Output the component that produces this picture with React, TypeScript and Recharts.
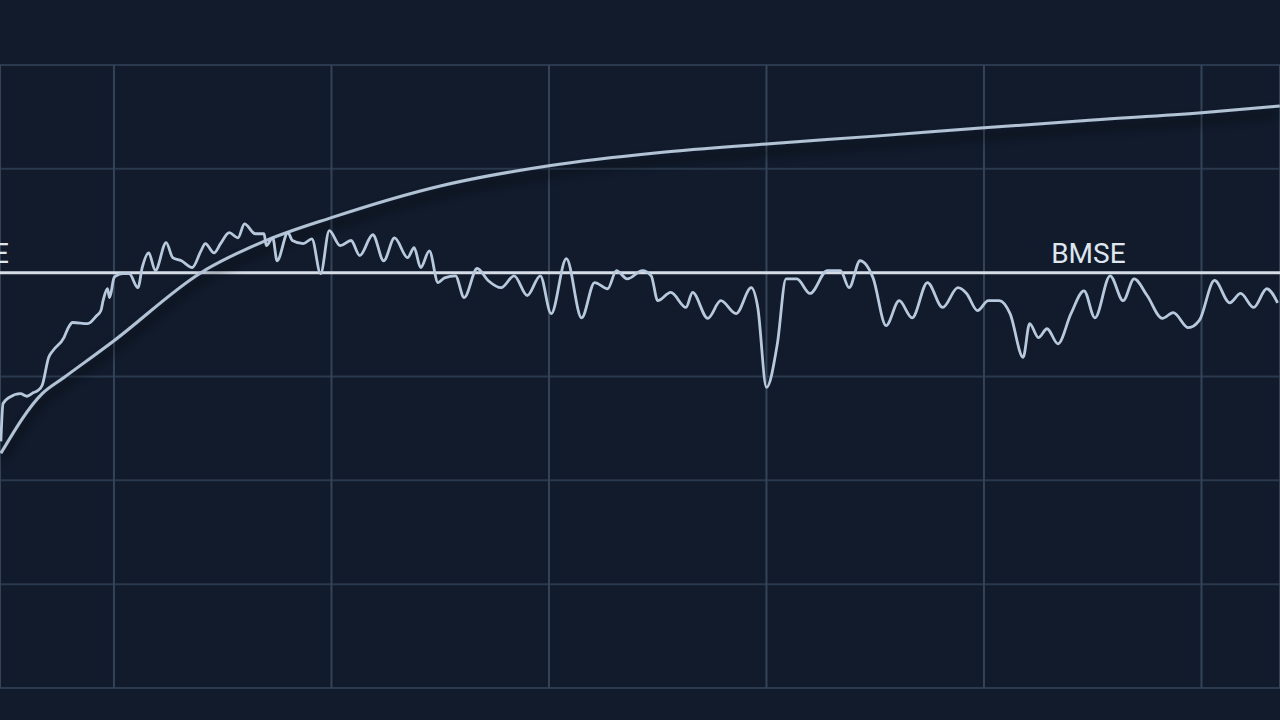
import { LineChart, Line, XAxis, YAxis, CartesianGrid, ReferenceLine, ReferenceDot } from 'recharts';

// Smooth trend curve (epoch, score)
const trendEpochs = [48, 67, 77, 100, 140, 170, 200, 250, 300, 350, 400, 450, 500, 550, 600, 636];
const trendValues = [0.452, 0.567, 0.598, 0.669, 0.8, 0.862, 0.906, 0.967, 1.006, 1.031, 1.048, 1.063, 1.079, 1.094, 1.108, 1.121];

// Noisy per-epoch measurement
const noiseEpochs = [
  48, 49, 52, 57, 60, 63, 65, 67, 70, 72, 77, 79, 81, 88, 92, 94, 95, 97, 98, 100,
  101, 104, 107, 111, 113, 116, 119, 124, 127, 131, 136, 140, 142, 146, 149, 153, 157, 160, 165, 169,
  170, 173, 175, 180, 182, 187, 191, 195, 199, 204, 209, 213, 219, 224, 229, 235, 238, 241, 245, 249,
  252, 257, 261, 267, 272, 278, 284, 290, 296, 301, 308, 315, 321, 327, 331, 336, 343, 347, 350, 356,
  363, 366, 373, 379, 386, 393, 396, 400, 405, 409, 414, 420, 428, 434, 438, 443, 449, 455, 461, 467,
  474, 481, 488, 492, 497, 502, 507, 512, 518, 521, 525, 529, 534, 540, 546, 551, 558, 564, 569, 575,
  582, 587, 594, 599, 606, 613, 618, 624, 630, 635,
];
const noiseValues = [
  0.475, 0.548, 0.56, 0.567, 0.562, 0.569, 0.573, 0.583, 0.637, 0.65, 0.675, 0.694, 0.704, 0.702, 0.717, 0.727, 0.746, 0.769, 0.752, 0.79,
  0.794, 0.798, 0.798, 0.771, 0.81, 0.838, 0.804, 0.858, 0.829, 0.823, 0.81, 0.842, 0.856, 0.838, 0.856, 0.877, 0.867, 0.894, 0.875, 0.875,
  0.852, 0.867, 0.823, 0.877, 0.862, 0.856, 0.865, 0.798, 0.881, 0.852, 0.862, 0.833, 0.873, 0.823, 0.867, 0.829, 0.848, 0.81, 0.842, 0.781,
  0.79, 0.794, 0.752, 0.808, 0.785, 0.771, 0.794, 0.756, 0.794, 0.721, 0.827, 0.713, 0.781, 0.769, 0.804, 0.788, 0.804, 0.794, 0.746, 0.762,
  0.733, 0.762, 0.712, 0.746, 0.721, 0.771, 0.733, 0.579, 0.663, 0.788, 0.788, 0.76, 0.804, 0.804, 0.771, 0.823, 0.79, 0.698, 0.746, 0.713,
  0.781, 0.733, 0.771, 0.76, 0.727, 0.746, 0.746, 0.721, 0.637, 0.702, 0.675, 0.692, 0.663, 0.721, 0.765, 0.713, 0.794, 0.746, 0.788, 0.756,
  0.712, 0.723, 0.694, 0.708, 0.785, 0.742, 0.76, 0.733, 0.769, 0.742,
];

const xTicks = [100, 200, 300, 400, 500, 600];
const yTicks = [0, 0.2, 0.4, 0.6, 0.8, 1.0, 1.2];
const baseline = 0.8;
const baselineLabel = 'BMSE';
const leftLabel = 'RMSE';

const trendData = trendEpochs.map((epoch, i) => ({ epoch, value: trendValues[i] }));
const noiseData = noiseEpochs.map((epoch, i) => ({ epoch, value: noiseValues[i] }));

export default function App() {
  return (
    <div style={{ position: 'absolute', top: 0, left: 0, width: 1280, height: 720, background: '#111b2c', overflow: 'hidden' }}>
      <LineChart width={1280} height={720} margin={{ top: 65, right: 0, bottom: 32, left: 0 }}>
        <defs>
          <filter id="curveShadow" x="-10%" y="-30%" width="120%" height="180%">
            <feDropShadow dx="0" dy="8" stdDeviation="6" floodColor="#02060d" floodOpacity="0.9" />
          </filter>
        </defs>
        <CartesianGrid vertical={false} stroke="#2a394d" strokeWidth={2} />
        <CartesianGrid horizontal={false} stroke="#344357" strokeWidth={2} />
        <XAxis
          type="number"
          dataKey="epoch"
          domain={[47.6, 636.1]}
          ticks={xTicks}
          allowDataOverflow
          hide
        />
        <YAxis type="number" domain={[0, 1.2]} ticks={yTicks} hide />
        <ReferenceLine
          y={baseline}
          stroke="#d6dde7"
          strokeWidth={3}
          label={({ viewBox }: any) => (
            <text
              x={viewBox.x + 9}
              y={viewBox.y - 10}
              textAnchor="end"
              fill="#dfe6ee"
              fontSize={28}
              fontFamily="Roboto, sans-serif"
            >
              {leftLabel}
            </text>
          )}
        />
        <Line
          data={trendData}
          dataKey="value"
          type="monotone"
          stroke="#b3c3d6"
          strokeWidth={3}
          dot={false}
          filter="url(#curveShadow)"
          isAnimationActive={false}
        />
        <Line
          data={noiseData}
          dataKey="value"
          type="monotone"
          stroke="#b8c9de"
          strokeWidth={2.8}
          dot={false}
          isAnimationActive={false}
        />
        <ReferenceDot
          x={548}
          y={baseline}
          r={0}
          stroke="none"
          label={{ value: baselineLabel, position: 'top', offset: 10, fill: '#dfe6ee', fontSize: 28, fontFamily: 'Roboto, sans-serif' }}
        />
      </LineChart>
    </div>
  );
}
